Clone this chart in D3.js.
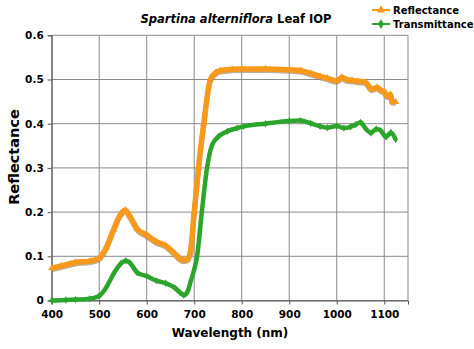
<!DOCTYPE html>
<head>
  <meta charset="utf-8">
  <script src="https://d3js.org/d3.v7.min.js"></script>
  <style>
    body { margin: 0; background: #fff; }
    text { font-family: "DejaVu Sans", Verdana, sans-serif; font-weight: bold; }
  </style>
</head>
<body>
<script>
  // wavelength (nm) / value pairs
  var reflWave = [400, 420, 450, 480, 500, 515, 530, 545, 555, 565, 580, 600, 620, 640, 660, 670, 677, 685, 692, 700, 709, 720, 734, 745, 755, 780, 800, 850, 900, 925, 945, 965, 980, 1000, 1011, 1020, 1032, 1045, 1060, 1074, 1085, 1093, 1100, 1107, 1113, 1117, 1124];
  var reflVals = [0.073, 0.078, 0.086, 0.089, 0.096, 0.12, 0.16, 0.195, 0.204, 0.19, 0.162, 0.148, 0.133, 0.124, 0.105, 0.095, 0.091, 0.093, 0.11, 0.2, 0.3, 0.4, 0.5, 0.515, 0.52, 0.523, 0.524, 0.524, 0.522, 0.52, 0.514, 0.507, 0.503, 0.497, 0.505, 0.5, 0.498, 0.496, 0.494, 0.478, 0.482, 0.476, 0.472, 0.462, 0.466, 0.45, 0.449];
  var tranWave = [400, 430, 450, 480, 500, 515, 530, 545, 556, 565, 580, 600, 620, 640, 660, 670, 678, 686, 693, 700, 706, 716, 727, 737, 750, 770, 790, 804, 850, 900, 924, 945, 965, 980, 1000, 1015, 1029, 1040, 1050, 1060, 1072, 1083, 1093, 1104, 1114, 1124];
  var tranVals = [0.0, 0.001, 0.002, 0.004, 0.01, 0.03, 0.06, 0.083, 0.09, 0.085, 0.063, 0.055, 0.045, 0.039, 0.028, 0.018, 0.012, 0.02, 0.045, 0.07, 0.1, 0.2, 0.3, 0.35, 0.37, 0.383, 0.39, 0.394, 0.4, 0.406, 0.407, 0.401, 0.394, 0.391, 0.395, 0.39, 0.393, 0.398, 0.403, 0.39, 0.379, 0.388, 0.384, 0.37, 0.38, 0.364];
  var xTicks = [400, 500, 600, 700, 800, 900, 1000, 1100];
  var yTicks = [0, 0.1, 0.2, 0.3, 0.4, 0.5, 0.6];

  var w = 474, h = 349;
  var svg = d3.select("body").append("svg").attr("width", w).attr("height", h);

  var x = d3.scaleLinear().domain([400, 1150]).range([51.7, 408]);
  var y = d3.scaleLinear().domain([0, 0.6]).range([300.5, 35.3]);

  var refl = reflWave.map(function(d, i) { return [d, reflVals[i]]; });
  var tran = tranWave.map(function(d, i) { return [d, tranVals[i]]; });

  // grid
  svg.append("g").selectAll("line").data(xTicks.concat([1150])).enter().append("line")
    .attr("x1", d => x(d)).attr("x2", d => x(d)).attr("y1", y(0)).attr("y2", y(0.6))
    .attr("stroke", "#8a8a8a").attr("stroke-width", 1);
  svg.append("g").selectAll("line").data(yTicks).enter().append("line")
    .attr("x1", x(400)).attr("x2", x(1150)).attr("y1", d => y(d)).attr("y2", d => y(d))
    .attr("stroke", "#8a8a8a").attr("stroke-width", 1);

  // axes
  var xAxis = svg.append("g").attr("transform", "translate(0," + y(0) + ")")
    .call(d3.axisBottom(x).tickValues(xTicks).tickSize(4).tickPadding(6).tickFormat(d3.format("d")));
  var yAxis = svg.append("g").attr("transform", "translate(" + x(400) + ",0)")
    .call(d3.axisLeft(y).tickValues(yTicks).tickSize(4).tickPadding(4).tickFormat(d => d === 0 ? "0" : d3.format(".1f")(d)));
  [xAxis, yAxis].forEach(function(a) {
    a.select(".domain").attr("stroke", "#555");
    a.selectAll(".tick line").attr("stroke", "#555");
    a.selectAll("text").attr("font-size", "10.5px").attr("fill", "#000")
      .style("font-family", '"DejaVu Sans", Verdana, sans-serif').style("font-weight", "bold");
  });

  var line = d3.line().x(d => x(d[0])).y(d => y(d[1])).curve(d3.curveMonotoneX);

  // reflectance: soft shadow, thick band, triangle markers
  svg.append("path").datum(refl).attr("d", line).attr("transform", "translate(0,1.5)")
    .attr("fill", "none").attr("stroke", "#8c7a66").attr("stroke-width", 5).attr("opacity", 0.6);
  svg.append("path").datum(refl).attr("d", line)
    .attr("fill", "none").attr("stroke", "#f7991c").attr("stroke-width", 5.5).attr("stroke-linejoin", "round");
  svg.append("g").selectAll("path").data(refl).enter().append("path")
    .attr("d", d3.symbol().type(d3.symbolTriangle).size(22))
    .attr("transform", d => "translate(" + x(d[0]) + "," + y(d[1]) + ")")
    .attr("fill", "#f7991c");

  // transmittance
  svg.append("path").datum(tran).attr("d", line)
    .attr("fill", "none").attr("stroke", "#2ba52b").attr("stroke-width", 4.5).attr("stroke-linejoin", "round");
  svg.append("g").selectAll("path").data(tran).enter().append("path")
    .attr("d", d3.symbol().type(d3.symbolDiamond).size(16))
    .attr("transform", d => "translate(" + x(d[0]) + "," + y(d[1]) + ")")
    .attr("fill", "#2ba52b");

  // title
  var title = svg.append("text").attr("x", 236).attr("y", 23).attr("text-anchor", "middle")
    .attr("font-size", "11.5px");
  title.append("tspan").attr("font-style", "italic").text("Spartina alterniflora");
  title.append("tspan").text(" Leaf IOP");

  // axis labels
  svg.append("text").attr("x", 230).attr("y", 337).attr("text-anchor", "middle")
    .attr("font-size", "12px").text("Wavelength (nm)");
  svg.append("text").attr("transform", "translate(19,157) rotate(-90)").attr("text-anchor", "middle")
    .attr("font-size", "14.5px").text("Reflectance");

  // legend
  var legend = [
    { name: "Reflectance", color: "#f7991c", sym: d3.symbolTriangle, y: 10 },
    { name: "Transmittance", color: "#2ba52b", sym: d3.symbolDiamond, y: 24 }
  ];
  var lg = svg.append("g").selectAll("g").data(legend).enter().append("g")
    .attr("transform", d => "translate(372," + d.y + ")");
  lg.append("line").attr("x1", 0).attr("x2", 18).attr("stroke", d => d.color).attr("stroke-width", 2);
  lg.append("path").attr("transform", "translate(9,0)")
    .attr("d", d => d3.symbol().type(d.sym).size(30)())
    .attr("fill", d => d.color);
  lg.append("text").attr("x", 21).attr("y", 4).attr("font-size", "10px").text(d => d.name);
</script>
</body>
